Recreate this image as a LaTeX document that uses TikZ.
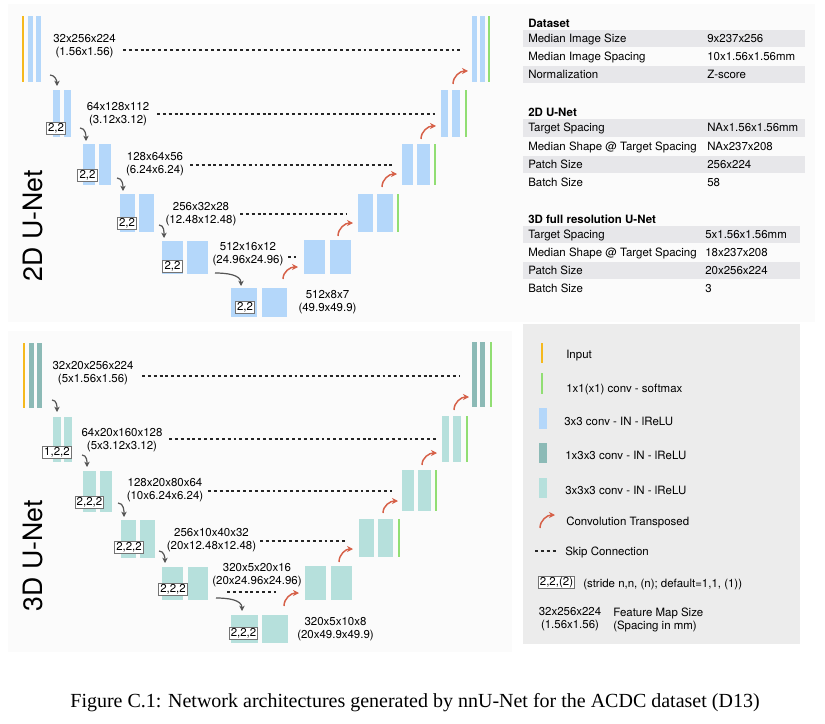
\documentclass[tikz,border=0pt]{standalone}
\usepackage{fontspec}
\setmainfont{TeX Gyre Heros}
\newfontfamily\capfont{Liberation Serif}
\usetikzlibrary{arrows.meta}
\definecolor{cblue}{RGB}{180,215,250}
\definecolor{cdteal}{RGB}{140,186,182}
\definecolor{clteal}{RGB}{182,224,220}
\definecolor{cyel}{RGB}{245,185,30}
\definecolor{cgreen}{RGB}{145,222,115}
\definecolor{cred}{RGB}{214,96,72}
\definecolor{carrow}{RGB}{85,85,85}
\definecolor{cband}{RGB}{231,231,234}
\definecolor{clegend}{RGB}{236,236,236}
\definecolor{cpanel}{RGB}{251,251,251}
\newcommand{\labfont}{\fontsize{8.6}{9.75}\selectfont}
\newcommand{\mkbar}[6]{\node[#2, anchor=north west, minimum width={(#5-#3)*0.75pt}, minimum height={(#6-#4)*0.75pt}] (#1) at (#3,#4) {};}
\newcommand{\tx}[4]{\node[txt] (#1) at (#2,#3+4) {#4};}
\begin{document}
\begin{tikzpicture}[x=0.75pt,y=-0.75pt,
 ubar/.style={inner sep=0pt,outer sep=0pt,draw=none},
 b2/.style={ubar,fill=cblue}, bd/.style={ubar,fill=cdteal}, bl/.style={ubar,fill=clteal},
 by/.style={ubar,fill=cyel}, bg/.style={ubar,fill=cgreen},
 stridebox/.style={draw=black!55, line width=0.75pt, fill=white, inner xsep=1.3pt, inner ysep=0pt, minimum height=9pt, font=\labfont},
 lab/.style={align=center,inner sep=0pt,font=\labfont},
 txt/.style={inner sep=0pt,font=\labfont,anchor=base west},
 garrow/.style={draw=carrow, line width=0.9pt, -{Stealth[length=4pt,width=4pt]}},
 rarrow/.style={draw=cred, line width=1.1pt, -{Stealth[length=4.5pt,width=4.5pt]}},
 skip/.style={draw=black!85, line width=0.85pt, dash pattern=on 2.2pt off 2.2pt},
 band/.style={fill=cband, draw=none},
 title/.style={rotate=90, font=\fontsize{20}{24}\selectfont, inner sep=0pt}]
\useasboundingbox (0,0) rectangle (825,724);
\fill[white] (0,0) rectangle (825,724);
\fill[cpanel] (8,4) rectangle (815,322);
\fill[cpanel] (8,331) rectangle (512,652);

% ---------------- 2D U-Net ----------------
\node[title] (t2d) at (33,226) {2D U-Net};
\mkbar{ea1y}{by}{22}{16}{24}{82}
\mkbar{ea1a}{b2}{28}{16}{33}{82}
\mkbar{ea1b}{b2}{36}{16}{41}{82}
\mkbar{ea2a}{b2}{53}{90}{60}{137}
\mkbar{ea2b}{b2}{64}{90}{71}{137}
\mkbar{ea3a}{b2}{83}{144}{95}{185}
\mkbar{ea3b}{b2}{99}{144}{111}{185}
\mkbar{ea4a}{b2}{120}{194}{135}{232}
\mkbar{ea4b}{b2}{139}{194}{154}{232}
\mkbar{ea5a}{b2}{162}{241}{183}{274}
\mkbar{ea5b}{b2}{187}{241}{208}{274}
\mkbar{ea6a}{b2}{231}{288}{257}{317}
\mkbar{ea6b}{b2}{262}{288}{287}{317}
\mkbar{da5a}{b2}{304}{240}{325}{274}
\mkbar{da5b}{b2}{330}{240}{351}{274}
\mkbar{da4a}{b2}{358}{194}{373}{232}
\mkbar{da4b}{b2}{377}{194}{393}{232}
\mkbar{da4g}{bg}{397}{194}{399}{232}
\mkbar{da3a}{b2}{402}{144}{413}{185}
\mkbar{da3b}{b2}{417}{144}{430}{185}
\mkbar{da3g}{bg}{434}{144}{436}{185}
\mkbar{da2a}{b2}{441}{90}{448}{137}
\mkbar{da2b}{b2}{452}{90}{460}{137}
\mkbar{da2g}{bg}{465}{90}{467}{137}
\mkbar{da1a}{b2}{472}{16}{477}{82}
\mkbar{da1b}{b2}{480}{16}{485}{82}
\mkbar{da1g}{bg}{488}{16}{490}{82}

\node[stridebox] (ka2) at (56,128.5) {2,2};
\node[stridebox] (ka3) at (87.5,175.5) {2,2};
\node[stridebox] (ka4) at (127,223.5) {2,2};
\node[stridebox] (ka5) at (172.5,266) {2,2};
\node[stridebox] (ka6) at (245,307.5) {2,2};

\node[lab] (la1) at (84.5,46.5) {32x256x224\\(1.56x1.56)};
\node[lab] (la2) at (118,114) {64x128x112\\(3.12x3.12)};
\node[lab] (la3) at (155,164.5) {128x64x56\\(6.24x6.24)};
\node[lab] (la4) at (201,214) {256x32x28\\(12.48x12.48)};
\node[lab] (la5) at (248,254.5) {512x16x12\\(24.96x24.96)};
\node[lab] (la6) at (327.5,302.5) {512x8x7\\(49.9x49.9)};

\coordinate (sa1s) at (123,50);  \coordinate (sa1e) at (460,50);
\coordinate (sa2s) at (157,114); \coordinate (sa2e) at (435,114);
\coordinate (sa3s) at (190,165); \coordinate (sa3e) at (392,165);
\coordinate (sa4s) at (240,214); \coordinate (sa4e) at (347,214);
\coordinate (sa5s) at (288,257); \coordinate (sa5e) at (296,257);
\foreach \i in {1,...,5} {\draw[skip] (sa\i s) -- (sa\i e);}

\coordinate (ga1s) at (50,75);   \coordinate (ga1e) at (57,86);
\coordinate (ga2s) at (80,128);  \coordinate (ga2e) at (86,141);
\coordinate (ga3s) at (117,178); \coordinate (ga3e) at (123,191);
\coordinate (ga4s) at (159,225); \coordinate (ga4e) at (164,238);
\coordinate (ga5s) at (215,273); \coordinate (ga5e) at (241,286);
\foreach \i in {1,...,5} {\draw[garrow] (ga\i s) to[out=0,in=90] (ga\i e);}

\coordinate (ra5s) at (283,279); \coordinate (ra5e) at (298,267);
\coordinate (ra4s) at (338,236); \coordinate (ra4e) at (353,223);
\coordinate (ra3s) at (382,187); \coordinate (ra3e) at (397,174);
\coordinate (ra2s) at (421,139); \coordinate (ra2e) at (436,126);
\coordinate (ra1s) at (453,84);  \coordinate (ra1e) at (468,71);
\foreach \i in {1,...,5} {\draw[rarrow] (ra\i s) to[out=90,in=180] (ra\i e);}

% ---------------- 3D U-Net ----------------
\node[title] (t3d) at (33,556) {3D U-Net};
\mkbar{eb1y}{by}{22.5}{343}{24.5}{408}
\mkbar{eb1a}{bd}{29}{343}{34}{408}
\mkbar{eb1b}{bd}{37}{343}{42}{408}
\mkbar{eb2a}{bl}{53}{417}{61}{462}
\mkbar{eb2b}{bl}{64}{417}{72}{462}
\mkbar{eb3a}{bl}{83}{471}{96}{512}
\mkbar{eb3b}{bl}{100}{471}{112}{512}
\mkbar{eb4a}{bl}{121}{520}{136}{558}
\mkbar{eb4b}{bl}{140}{520}{155}{558}
\mkbar{eb5a}{bl}{162}{567}{183}{600}
\mkbar{eb5b}{bl}{188}{567}{208}{600}
\mkbar{eb6a}{bl}{231}{615}{258}{643}
\mkbar{eb6b}{bl}{262}{615}{288}{643}
\mkbar{db5a}{bl}{305}{566}{326}{600}
\mkbar{db5b}{bl}{331}{566}{352}{600}
\mkbar{db4a}{bl}{359}{519}{374}{557}
\mkbar{db4b}{bl}{378}{519}{393}{557}
\mkbar{db4g}{bg}{398}{519}{400}{557}
\mkbar{db3a}{bl}{402}{470}{414}{511}
\mkbar{db3b}{bl}{418}{470}{431}{511}
\mkbar{db3g}{bg}{435}{470}{437}{511}
\mkbar{db2a}{bl}{442}{416}{449}{462}
\mkbar{db2b}{bl}{453}{416}{461}{462}
\mkbar{db2g}{bg}{466}{416}{468}{462}
\mkbar{db1a}{bd}{472}{342}{477}{407}
\mkbar{db1b}{bd}{480}{342}{485}{407}
\mkbar{db1g}{bg}{489.5}{342}{491.5}{407}

\node[stridebox] (kb2) at (57,452.5) {1,2,2};
\node[stridebox] (kb3) at (89.5,502) {2,2,2};
\node[stridebox] (kb4) at (129,547.5) {2,2,2};
\node[stridebox] (kb5) at (173,589.5) {2,2,2};
\node[stridebox] (kb6) at (243.5,633) {2,2,2};

\node[lab] (lb1) at (93,373) {32x20x256x224\\(5x1.56x1.56)};
\node[lab] (lb2) at (122,440) {64x20x160x128\\(5x3.12x3.12)};
\node[lab] (lb3) at (165,490.5) {128x20x80x64\\(10x6.24x6.24)};
\node[lab] (lb4) at (211.5,540) {256x10x40x32\\(20x12.48x12.48)};
\node[lab] (lb5) at (257,575.5) {320x5x20x16\\(20x24.96x24.96)};
\node[lab] (lb6) at (335.5,629.5) {320x5x10x8\\(20x49.9x49.9)};

\coordinate (sb1s) at (142,376); \coordinate (sb1e) at (460,376);
\coordinate (sb2s) at (169,439); \coordinate (sb2e) at (436,439);
\coordinate (sb3s) at (208,491); \coordinate (sb3e) at (392,491);
\coordinate (sb4s) at (260,541); \coordinate (sb4e) at (347,541);
\coordinate (sb5s) at (227,592); \coordinate (sb5e) at (276,592);
\foreach \i in {1,...,5} {\draw[skip] (sb\i s) -- (sb\i e);}

\coordinate (gb1s) at (52,400);  \coordinate (gb1e) at (57,412);
\coordinate (gb2s) at (82,455);  \coordinate (gb2e) at (87,467);
\coordinate (gb3s) at (118,503); \coordinate (gb3e) at (124,517);
\coordinate (gb4s) at (159,551); \coordinate (gb4e) at (165,563);
\coordinate (gb5s) at (216,598); \coordinate (gb5e) at (242,611);
\foreach \i in {1,...,5} {\draw[garrow] (gb\i s) to[out=0,in=90] (gb\i e);}

\coordinate (rb5s) at (284,606); \coordinate (rb5e) at (299,593);
\coordinate (rb4s) at (339,562); \coordinate (rb4e) at (353,549);
\coordinate (rb3s) at (383,513); \coordinate (rb3e) at (398,501);
\coordinate (rb2s) at (422,465); \coordinate (rb2e) at (437,453);
\coordinate (rb1s) at (454,410); \coordinate (rb1e) at (469,397);
\foreach \i in {1,...,5} {\draw[rarrow] (rb\i s) to[out=90,in=180] (rb\i e);}

% ---------------- Tables ----------------
\fill[band] (523,30.5) rectangle (805,47.5);
\fill[band] (523,66.5) rectangle (805,83.5);
\fill[band] (523,119.5) rectangle (805,136.5);
\fill[band] (523,155.5) rectangle (805,172.5);
\fill[band] (523,225.5) rectangle (800,242.5);
\fill[band] (523,261.5) rectangle (800,278.5);

\tx{h1}{528}{24}{\bfseries Dataset}
\tx{t11}{528}{39}{Median Image Size}      \tx{v11}{707}{39}{9x237x256}
\tx{t12}{528}{57}{Median Image Spacing}   \tx{v12}{707}{57}{10x1.56x1.56mm}
\tx{t13}{528}{75}{Normalization}          \tx{v13}{707}{75}{Z-score}
\tx{h2}{528}{113}{\bfseries 2D U-Net}
\tx{t21}{528}{128}{Target Spacing}        \tx{v21}{707}{128}{NAx1.56x1.56mm}
\tx{t22}{528}{146}{Median Shape @ Target Spacing} \tx{v22}{707}{146}{NAx237x208}
\tx{t23}{528}{164}{Patch Size}            \tx{v23}{707}{164}{256x224}
\tx{t24}{528}{182}{Batch Size}            \tx{v24}{707}{182}{58}
\tx{h3}{528}{219}{\bfseries 3D full resolution U-Net}
\tx{t31}{528}{234}{Target Spacing}        \tx{v31}{705}{234}{5x1.56x1.56mm}
\tx{t32}{528}{252}{Median Shape @ Target Spacing} \tx{v32}{705}{252}{18x237x208}
\tx{t33}{528}{270}{Patch Size}            \tx{v33}{705}{270}{20x256x224}
\tx{t34}{528}{288}{Batch Size}            \tx{v34}{705}{288}{3}

% ---------------- Legend ----------------
\fill[clegend] (523,324) rectangle (800,644);
\mkbar{ly}{by}{541}{343}{543}{363}
\tx{lyt}{566}{354}{Input}
\mkbar{lg}{bg}{541}{373}{543}{394}
\tx{lgt}{566}{388}{1x1(x1) conv - softmax}
\mkbar{lb}{b2}{539}{408}{547}{429}
\tx{lbt}{564}{421}{3x3 conv - IN - lReLU}
\mkbar{ld}{bd}{539}{443}{547}{463}
\tx{ldt}{565}{455}{1x3x3 conv - IN - lReLU}
\mkbar{ll}{bl}{539}{478}{547}{498}
\tx{llt}{565}{490}{3x3x3 conv - IN - lReLU}
\coordinate (lrs) at (540,528); \coordinate (lre) at (555,515);
\draw[rarrow] (lrs) to[out=90,in=180] (lre);
\tx{lrt}{566}{521}{Convolution Transposed}
\coordinate (lss) at (535,551); \coordinate (lse) at (557,551);
\draw[skip] (lss) -- (lse);
\tx{lst}{565}{551}{Skip Connection}
\node[stridebox, minimum width=27.5pt] (lk) at (556.5,582.5) {2,2,(2)};
\tx{lkt}{583}{583}{(stride n,n, (n); default=1,1, (1))}
\node[lab] (lfm) at (570,619.5) {32x256x224\\(1.56x1.56)};
\node[lab, align=left, anchor=west] (lft) at (613,619.5) {Feature Map Size\\(Spacing in mm)};

% ---------------- Caption ----------------
\node[font=\capfont\fontsize{15}{18}\selectfont, inner sep=0pt] (cap) at (415,703) {Figure C.1: Network architectures generated by nnU-Net for the ACDC dataset (D13)};
\end{tikzpicture}
\end{document}
